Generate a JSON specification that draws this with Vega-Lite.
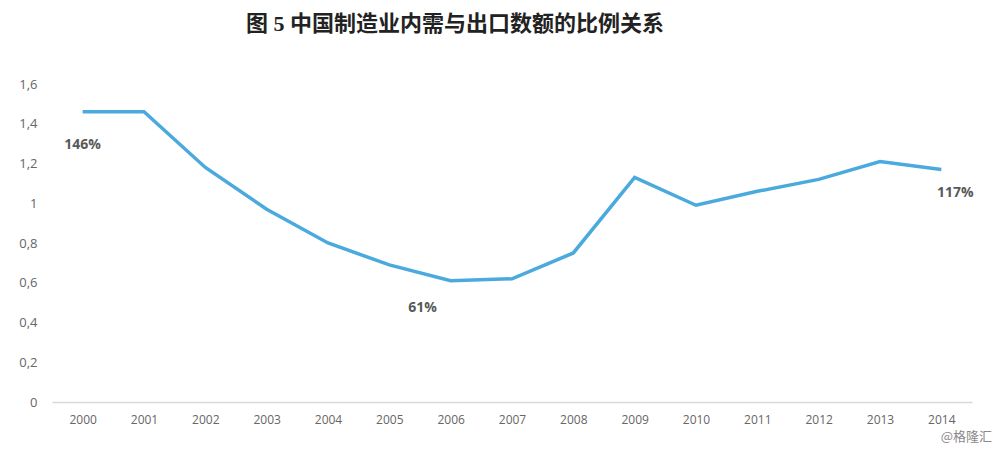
{
  "$schema": "https://vega.github.io/schema/vega-lite/v6.json",
  "autosize": "none",
  "width": 920,
  "height": 318,
  "padding": {"left": 52, "top": 84, "right": 28, "bottom": 47},
  "background": "white",
  "title": {
    "text": "图 5  中国制造业内需与出口数额的比例关系",
    "font": "Liberation Serif, Noto Sans CJK SC",
    "fontSize": 22,
    "fontWeight": "bold",
    "color": "#222222",
    "anchor": "middle",
    "dx": -57,
    "offset": 42
  },
  "config": {
    "view": {"stroke": null},
    "axis": {"labelFont": "Open Sans, Liberation Sans", "labelColor": "#666666", "title": null, "grid": false, "ticks": false}
  },
  "data": {
    "values": [
      {"year": "2000", "ratio": 1.46, "label": "146%"},
      {"year": "2001", "ratio": 1.46, "label": ""},
      {"year": "2002", "ratio": 1.18, "label": ""},
      {"year": "2003", "ratio": 0.97, "label": ""},
      {"year": "2004", "ratio": 0.80, "label": ""},
      {"year": "2005", "ratio": 0.69, "label": ""},
      {"year": "2006", "ratio": 0.61, "label": "61%"},
      {"year": "2007", "ratio": 0.62, "label": ""},
      {"year": "2008", "ratio": 0.75, "label": ""},
      {"year": "2009", "ratio": 1.13, "label": ""},
      {"year": "2010", "ratio": 0.99, "label": ""},
      {"year": "2011", "ratio": 1.06, "label": ""},
      {"year": "2012", "ratio": 1.12, "label": ""},
      {"year": "2013", "ratio": 1.21, "label": ""},
      {"year": "2014", "ratio": 1.17, "label": "117%"}
    ]
  },
  "encoding": {
    "x": {
      "field": "year",
      "type": "ordinal",
      "scale": {"type": "point", "padding": 0.5},
      "axis": {"labelAngle": 0, "labelFontSize": 12, "labelPadding": 12, "domainColor": "#d9d9d9", "domainWidth": 1.5}
    },
    "y": {
      "field": "ratio",
      "type": "quantitative",
      "scale": {"domain": [0, 1.6], "nice": false},
      "axis": {"values": [0, 0.2, 0.4, 0.6, 0.8, 1, 1.2, 1.4, 1.6], "labelExpr": "replace(format(datum.value, ''), '.', ',')", "labelFontSize": 13, "labelPadding": 15, "domain": false}
    }
  },
  "layer": [
    {"mark": {"type": "line", "color": "#4aaade", "strokeWidth": 3.5}},
    {
      "transform": [{"filter": "datum.label == '146%'"}],
      "mark": {"type": "text", "dy": 33, "dx": 0, "fontSize": 14, "fontWeight": "bold", "color": "#595959", "font": "Open Sans, Liberation Sans"},
      "encoding": {"text": {"field": "label"}}
    },
    {
      "transform": [{"filter": "datum.label == '61%'"}],
      "mark": {"type": "text", "dy": 27, "dx": -28, "fontSize": 14, "fontWeight": "bold", "color": "#595959", "font": "Open Sans, Liberation Sans"},
      "encoding": {"text": {"field": "label"}}
    },
    {
      "transform": [{"filter": "datum.label == '117%'"}],
      "mark": {"type": "text", "dy": 24, "dx": 14, "fontSize": 14, "fontWeight": "bold", "color": "#595959", "font": "Open Sans, Liberation Sans"},
      "encoding": {"text": {"field": "label"}}
    },
    {
      "transform": [{"filter": "datum.year == '2014'"}],
      "mark": {"type": "text", "dy": 35, "dx": 25, "fontSize": 13, "color": "#8a8a8a", "font": "Noto Sans CJK SC"},
      "encoding": {"text": {"value": "@格隆汇"}, "y": {"datum": 0}}
    }
  ]
}
